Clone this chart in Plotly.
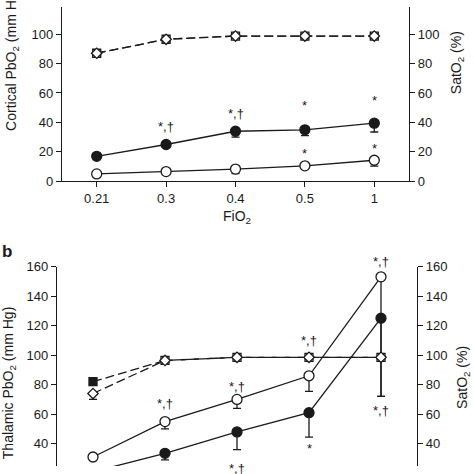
import plotly.graph_objects as go

# ---------------- data ----------------
fio2 = ["0.21", "0.3", "0.4", "0.5", "1"]

# Panel a: cortical PbO2 (mm Hg) and SatO2 (%)
a_filled = [17, 25, 34, 35, 39.5]
a_filled_err = [1.5, 2, 4, 4, 6]
a_open = [5, 6.6, 8.3, 10.5, 14.3]
a_open_err = [1, 1, 3, 2, 4]
a_sat_sq = [87, 96.5, 98.7, 98.7, 98.7]
a_sat_di = [87, 96.5, 98.7, 98.7, 98.7]

# Panel b: thalamic PbO2 (mm Hg) and SatO2 (%)
b_filled = [21, 33.5, 48, 61, 125]
b_filled_err = [3, 4.5, 12, 16.5, 53]
b_open = [31, 55, 70, 86, 153]
b_open_err = [2, 5, 6, 10.5, 81]
b_sat_sq = [82, 96.4, 98.5, 98.5, 98.5]
b_sat_di = [74, 96.4, 98.5, 98.5, 98.5]
b_sat_di_err = [4, 0, 0, 0, 0]

# significance labels: (category, y value, label, yshift px)
sig_a = [("0.3", 37.5, "*,†", 0), ("0.4", 46, "*,†", 0),
         ("0.5", 51.6, "*", 0), ("1", 54.9, "*", 0),
         ("0.5", 18.7, "*", 0), ("1", 22, "*", 0)]
sig_b = [("0.3", 66.9, "*,†", 0), ("0.4", 78.7, "*,†", 0),
         ("0.5", 110, "*,†", 0), ("1", 153, "*,†", 15),
         ("1", 62.3, "*,†", 0), ("0.5", 37, "*", 0),
         ("0.4", 48, "*,†", -37)]

y_ticks_a = [0, 20, 40, 60, 80, 100, 120]
y_ticks_b = [20, 40, 60, 80, 100, 120, 140, 160]

# ---------------- styling ----------------
W = H = 474
FONT = "Liberation Sans, Arial, Helvetica, sans-serif"
INK = "#1a1a1a"
LW = 1.3


def px_x(p):
    return p / W


def px_y(p):
    return 1 - p / H


fig = go.Figure()


def circ_trace(y, err, filled, xa, ya):
    return go.Scatter(
        x=fio2, y=y, xaxis=xa, yaxis=ya, mode="lines+markers",
        line=dict(color=INK, width=LW),
        marker=dict(symbol="circle", size=10,
                    color=INK if filled else "white",
                    line=dict(color=INK, width=LW)),
        error_y=dict(type="data", symmetric=False, array=[0] * len(y),
                     arrayminus=err, color=INK, thickness=LW, width=4),
        showlegend=False, hoverinfo="skip")


def sat_trace(y, symbol, colors, xa, ya, err=None):
    t = go.Scatter(
        x=fio2, y=y, xaxis=xa, yaxis=ya, mode="lines+markers",
        line=dict(color=INK, width=LW, dash="9px,4px"),
        marker=dict(symbol=symbol, size=8, color=colors,
                    line=dict(color=INK, width=LW)),
        showlegend=False, hoverinfo="skip")
    if err is not None:
        t.error_y = dict(type="data", symmetric=False, array=[0] * len(y),
                         arrayminus=err, color=INK, thickness=LW, width=4)
    return t


# panel a
fig.add_trace(circ_trace(a_filled, a_filled_err, True, "x", "y"))
fig.add_trace(circ_trace(a_open, a_open_err, False, "x", "y"))
fig.add_trace(sat_trace(a_sat_sq, "square", "white", "x", "y3"))
fig.add_trace(sat_trace(a_sat_di, "diamond", "white", "x", "y3"))

# panel b
fig.add_trace(circ_trace(b_filled, b_filled_err, True, "x2", "y2"))
fig.add_trace(circ_trace(b_open, b_open_err, False, "x2", "y2"))
sq_colors = [INK] + ["white"] * (len(b_sat_sq) - 1)
fig.add_trace(sat_trace(b_sat_sq, "square", sq_colors, "x2", "y4"))
fig.add_trace(sat_trace(b_sat_di, "diamond", "white", "x2", "y4", b_sat_di_err))

tickfont = dict(family=FONT, size=13, color=INK)
axis_common = dict(showgrid=False, zeroline=False, showline=True,
                   linecolor=INK, linewidth=1.2, ticks="outside",
                   ticklen=5, tickwidth=1.1, tickcolor=INK, tickfont=tickfont)

ya_range = [0, 180 / 1.52]
yb_range = [(512 - 474) / 1.525, 160]

fig.update_layout(
    width=W, height=H, autosize=False,
    margin=dict(l=0, r=0, t=0, b=0, pad=0),
    paper_bgcolor="white", plot_bgcolor="white",
    font=dict(family=FONT, color=INK),
    xaxis=dict(axis_common, type="category", range=[-0.5, 4.5],
               domain=[px_x(62), px_x(409)], anchor="y",
               tickvals=fio2, ticktext=fio2),
    yaxis=dict(axis_common, range=ya_range, domain=[px_y(180), 1],
               anchor="x", tickvals=y_ticks_a),
    yaxis3=dict(axis_common, range=ya_range, overlaying="y", side="right",
                anchor="x", tickvals=y_ticks_a),
    xaxis2=dict(type="category", range=[-0.5, 4.5],
                domain=[px_x(57), px_x(417)], anchor="y2",
                showline=False, showticklabels=False, ticks="",
                showgrid=False, zeroline=False),
    yaxis2=dict(axis_common, range=yb_range, domain=[0, px_y(268)],
                anchor="x2", tickvals=y_ticks_b),
    yaxis4=dict(axis_common, range=yb_range, overlaying="y2", side="right",
                anchor="x2", tickvals=y_ticks_b),
)

ann = []
sigfont = dict(family=FONT, size=13, color=INK)
for cat, yv, lab, ys in sig_a:
    ann.append(dict(x=fio2.index(cat), y=yv, xref="x", yref="y", text=lab,
                    showarrow=False, font=sigfont, yshift=ys,
                    xanchor="center", yanchor="middle"))
for cat, yv, lab, ys in sig_b:
    ann.append(dict(x=fio2.index(cat), y=yv, xref="x2", yref="y2", text=lab,
                    showarrow=False, font=sigfont, yshift=ys,
                    xanchor="center", yanchor="middle"))

titlefont = dict(family=FONT, size=14, color=INK)
ann += [
    dict(text="Cortical PbO<sub>2</sub> (mm Hg)", textangle=-90,
         x=px_x(12.5), y=px_y(130), xref="paper", yref="paper",
         xanchor="center", yanchor="bottom", showarrow=False, font=titlefont),
    dict(text="SatO<sub>2</sub> (%)", textangle=-90,
         x=px_x(457), y=px_y(58), xref="paper", yref="paper",
         xanchor="center", yanchor="middle", showarrow=False, font=titlefont),
    dict(text="FiO<sub>2</sub>", x=px_x(237), y=px_y(217),
         xref="paper", yref="paper", xanchor="center", yanchor="middle",
         showarrow=False, font=titlefont),
    dict(text="<b>b</b>", x=0, y=px_y(253), xref="paper", yref="paper",
         xanchor="left", yanchor="middle", showarrow=False,
         font=dict(family=FONT, size=17, color=INK)),
    dict(text="Thalamic PbO<sub>2</sub> (mm Hg)", textangle=-90,
         x=px_x(8.5), y=px_y(389), xref="paper", yref="paper",
         xanchor="center", yanchor="middle", showarrow=False, font=titlefont),
    dict(text="SatO<sub>2</sub> (%)", textangle=-90,
         x=px_x(463), y=px_y(383), xref="paper", yref="paper",
         xanchor="center", yanchor="middle", showarrow=False, font=titlefont),
    # partially visible top tick labels (cut by the frame)
    dict(text="120", x=px_x(53), y=px_y(-4), xref="paper", yref="paper",
         xanchor="right", yanchor="bottom", showarrow=False, font=tickfont),
    dict(text="120", x=px_x(417), y=px_y(-4), xref="paper", yref="paper",
         xanchor="left", yanchor="bottom", showarrow=False, font=tickfont),
]
fig.update_layout(annotations=ann)

fig.write_html("out.html")
